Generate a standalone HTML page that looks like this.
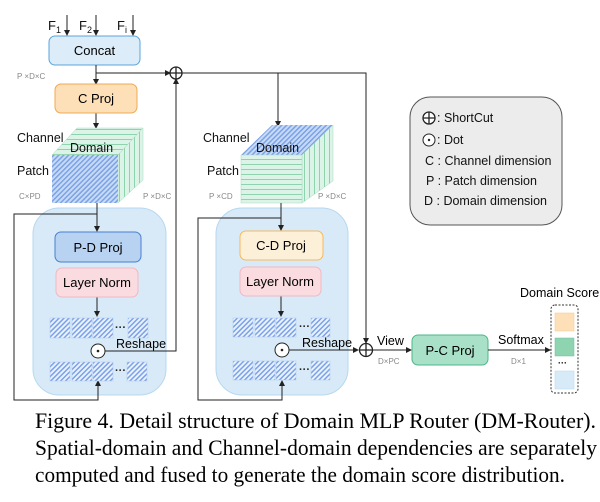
<!DOCTYPE html>
<html><head><meta charset="utf-8"><style>
html,body{margin:0;padding:0;background:#fff;}
svg{display:block;}
.t{font-family:"Liberation Sans",sans-serif;}
.cap{font-family:"Liberation Serif",serif;font-size:21.8px;fill:#000;}
</style></head><body>
<svg width="600" height="502" viewBox="0 0 600 502" xmlns="http://www.w3.org/2000/svg">
<defs>
<pattern id="hb" width="3.5" height="3.5" patternUnits="userSpaceOnUse" patternTransform="rotate(45)">
<rect width="3.5" height="3.5" fill="#c8daf6"/><rect width="1.5" height="3.5" fill="#7aa2e6"/></pattern>
<pattern id="sq" width="3.5" height="3.5" patternUnits="userSpaceOnUse" patternTransform="rotate(45)">
<rect width="3.5" height="3.5" fill="#eaf1ff"/><rect width="1.5" height="3.5" fill="#7aa2e6"/></pattern>
<pattern id="gh" width="6" height="5" patternUnits="userSpaceOnUse">
<rect width="6" height="5" fill="#dcf3e7"/><rect y="4" width="6" height="1" fill="#8fd2ae"/></pattern>
<pattern id="gv" width="5" height="6" patternUnits="userSpaceOnUse">
<rect width="5" height="6" fill="#dcf3e7"/><rect x="4" width="1" height="6" fill="#8fd2ae"/></pattern>
<marker id="a" markerWidth="6" markerHeight="6" refX="5" refY="3" orient="auto" markerUnits="userSpaceOnUse"><path d="M0,0 L6,3 L0,6z" fill="#222"/></marker>
</defs>

<rect x="33" y="208" width="133" height="187" rx="26" fill="#d8eaf7" stroke="#b6d8f0"/>
<rect x="216" y="208" width="132" height="187" rx="26" fill="#d8eaf7" stroke="#b6d8f0"/>

<g class="t" font-size="13" fill="#111">
<text x="48" y="30">F<tspan font-size="9" dy="3">1</tspan></text>
<text x="79" y="30">F<tspan font-size="9" dy="3">2</tspan></text>
<text x="117" y="30">F<tspan font-size="9" dy="3">i</tspan></text>
</g>
<g stroke="#222" stroke-width="1" fill="none">
<line x1="67" y1="15" x2="67" y2="35" marker-end="url(#a)"/>
<line x1="96" y1="15" x2="96" y2="35" marker-end="url(#a)"/>
<line x1="133" y1="15" x2="133" y2="35" marker-end="url(#a)"/>
</g>

<rect x="49" y="36" width="91" height="29" rx="6" fill="#dcecf8" stroke="#5aa5dc"/>
<text class="t" x="94.5" y="55" font-size="13" text-anchor="middle">Concat</text>
<text class="t" x="17" y="79" font-size="8" fill="#888">P ×D×C</text>

<g stroke="#222" stroke-width="1" fill="none">
<line x1="96" y1="65" x2="96" y2="84" marker-end="url(#a)"/>
<line x1="96" y1="73" x2="170" y2="73" marker-end="url(#a)"/>
<polyline points="182,73 366,73 366,343" marker-end="url(#a)"/>
<line x1="278" y1="73" x2="278" y2="126" marker-end="url(#a)"/>
<line x1="96" y1="113" x2="96" y2="128" marker-end="url(#a)"/>
<polyline points="105,351 176,351 176,79" />
<line x1="176" y1="82" x2="176" y2="79" marker-end="url(#a)"/>
</g>
<circle cx="176" cy="73" r="6" fill="#fff" stroke="#222" stroke-width="1.3"/>
<path d="M176,67 V79 M170,73 H182" stroke="#222" stroke-width="1.3"/>

<rect x="55" y="84" width="82" height="29" rx="6" fill="#fde0b8" stroke="#f0a850"/>
<text class="t" x="96" y="103" font-size="13" text-anchor="middle">C Proj</text>

<polygon points="52,155 118,155 143,128 77,128" fill="url(#gh)" stroke="#a8dcc0" stroke-width="0.5"/>
<polygon points="118,155 143,128 143,180 118,203" fill="url(#gv)" stroke="#a8dcc0" stroke-width="0.5"/>
<rect x="52" y="155" width="66" height="48" fill="url(#hb)"/>
<g class="t" font-size="12.5" fill="#111">
<text x="17" y="142">Channel</text>
<text x="70" y="152">Domain</text>
<text x="17" y="175">Patch</text>
</g>
<text class="t" x="19" y="199" font-size="8" fill="#888">C×PD</text>
<text class="t" x="143" y="199" font-size="8" fill="#888">P ×D×C</text>

<polygon points="241,155 302,155 333,125 272,125" fill="url(#hb)"/>
<polygon points="302,155 333,125 333,181 302,203" fill="url(#gv)" stroke="#a8dcc0" stroke-width="0.5"/>
<rect x="241" y="155" width="61" height="48" fill="url(#gh)" stroke="#a8dcc0" stroke-width="0.5"/>
<g class="t" font-size="12.5" fill="#111">
<text x="203" y="142">Channel</text>
<text x="256" y="152">Domain</text>
<text x="207" y="175">Patch</text>
</g>
<text class="t" x="209" y="199" font-size="8" fill="#888">P ×CD</text>
<text class="t" x="318" y="199" font-size="8" fill="#888">P ×D×C</text>

<g stroke="#222" stroke-width="1" fill="none">
<polyline points="97,203 97,214 14,214 14,400 98,400 98,381" marker-end="url(#a)"/>
<line x1="97" y1="214" x2="97" y2="231" marker-end="url(#a)"/>
<polyline points="281,203 281,218 198,218 198,400 282,400 282,381" marker-end="url(#a)"/>
<line x1="281" y1="218" x2="281" y2="230" marker-end="url(#a)"/>
<line x1="97" y1="297" x2="97" y2="316" marker-end="url(#a)"/>
<line x1="281" y1="296" x2="281" y2="316" marker-end="url(#a)"/>
<line x1="289" y1="350" x2="358" y2="350" marker-end="url(#a)"/>
</g>

<rect x="55" y="232" width="86" height="30" rx="6" fill="#b8d2f2" stroke="#4a7fd0"/>
<text class="t" x="98" y="252" font-size="13" text-anchor="middle">P-D Proj</text>
<rect x="56" y="268" width="82" height="29" rx="6" fill="#fadbe0" stroke="#f0b8c4"/>
<text class="t" x="97" y="287" font-size="13" text-anchor="middle">Layer Norm</text>
<rect x="240" y="231" width="83" height="29" rx="6" fill="#fdf0d8" stroke="#f5b860"/>
<text class="t" x="281" y="250" font-size="13" text-anchor="middle">C-D Proj</text>
<rect x="240" y="267" width="81" height="29" rx="6" fill="#fadbe0" stroke="#f0b8c4"/>
<text class="t" x="280" y="286" font-size="13" text-anchor="middle">Layer Norm</text>

<g fill="url(#sq)" stroke="#b0c8f0" stroke-width="0.5">
<rect x="50" y="318" width="20" height="20"/><rect x="72" y="318" width="20" height="20"/><rect x="93" y="318" width="20" height="20"/><rect x="128" y="318" width="20" height="20"/>
<rect x="50" y="362" width="20" height="19"/><rect x="72" y="362" width="20" height="19"/><rect x="93" y="362" width="20" height="19"/><rect x="127" y="362" width="20" height="19"/>
<rect x="233" y="318" width="20" height="19"/><rect x="255" y="318" width="20" height="19"/><rect x="276" y="318" width="20" height="19"/><rect x="311" y="318" width="19" height="19"/>
<rect x="233" y="361" width="20" height="19"/><rect x="255" y="361" width="20" height="19"/><rect x="276" y="361" width="20" height="19"/><rect x="311" y="361" width="19" height="19"/>
</g>
<g class="t" font-size="11" font-weight="bold" fill="#222">
<text x="115" y="331">···</text><text x="115" y="374">···</text>
<text x="299" y="330">···</text><text x="299" y="373">···</text>
</g>
<circle cx="98" cy="351" r="7" fill="#fff" stroke="#222"/><circle cx="98" cy="351" r="1.3" fill="#222"/>
<circle cx="282" cy="350" r="7" fill="#fff" stroke="#222"/><circle cx="282" cy="350" r="1.3" fill="#222"/>
<text class="t" x="116" y="348" font-size="12.5">Reshape</text>
<text class="t" x="302" y="347" font-size="12.5">Reshape</text>

<circle cx="366" cy="350" r="6.5" fill="#fff" stroke="#222" stroke-width="1.3"/>
<path d="M366,343.5 V356.5 M359.5,350 H372.5" stroke="#222" stroke-width="1.3"/>
<line x1="372" y1="350" x2="411" y2="350" stroke="#222" marker-end="url(#a)"/>
<text class="t" x="377" y="345" font-size="12.5">View</text>
<text class="t" x="378" y="364" font-size="8" fill="#888">D×PC</text>
<rect x="412" y="335" width="76" height="30" rx="6" fill="#a8e0c8" stroke="#4cb888"/>
<text class="t" x="450" y="355" font-size="13" text-anchor="middle">P-C Proj</text>
<line x1="488" y1="350" x2="550" y2="350" stroke="#222" marker-end="url(#a)"/>
<text class="t" x="498" y="344" font-size="12.5">Softmax</text>
<text class="t" x="511" y="364" font-size="8" fill="#888">D×1</text>

<text class="t" x="520" y="297" font-size="12.5">Domain Score</text>
<rect x="551" y="305" width="27" height="88" rx="4" fill="#fff" stroke="#333" stroke-dasharray="2,1.5"/>
<rect x="555" y="313" width="19" height="18" fill="#fde0b8" stroke="#f5c890" stroke-width="0.5"/>
<rect x="555" y="338" width="19" height="18" fill="#8ed4b0" stroke="#6cc09a" stroke-width="0.5"/>
<text class="t" x="558" y="366" font-size="9" font-weight="bold">···</text>
<rect x="555" y="371" width="19" height="18" fill="#d6eaf8" stroke="#b6d8f0" stroke-width="0.5"/>

<rect x="410" y="97" width="152" height="128" rx="20" fill="#ececec" stroke="#555"/>
<circle cx="429" cy="118" r="6" fill="#fff" stroke="#222" stroke-width="1.3"/>
<path d="M429,112 V124 M423,118 H435" stroke="#222" stroke-width="1.3"/>
<circle cx="429" cy="140" r="6" fill="#fff" stroke="#222"/><circle cx="429" cy="140" r="1.2" fill="#222"/>
<g class="t" font-size="12.5" fill="#111">
<text x="437" y="122">: ShortCut</text>
<text x="437" y="144">: Dot</text>
<text x="425" y="165">C : Channel dimension</text>
<text x="426" y="185">P : Patch dimension</text>
<text x="424" y="205">D : Domain dimension</text>
</g>

<text class="cap" x="35" y="428" textLength="561" lengthAdjust="spacingAndGlyphs">Figure 4. Detail structure of Domain MLP Router (DM-Router).</text>
<text class="cap" x="35" y="455" textLength="562" lengthAdjust="spacingAndGlyphs">Spatial-domain and Channel-domain dependencies are separately</text>
<text class="cap" x="35" y="482" textLength="530" lengthAdjust="spacingAndGlyphs">computed and fused to generate the domain score distribution.</text>
</svg>
</body></html>
